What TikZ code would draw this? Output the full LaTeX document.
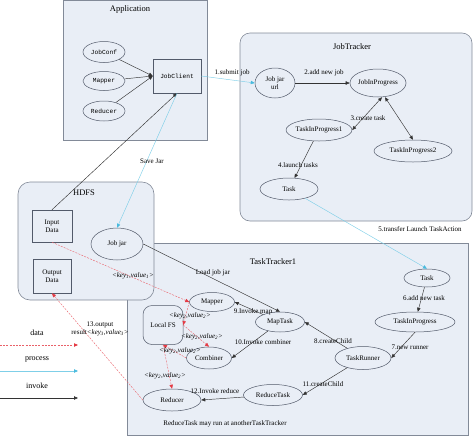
\documentclass[tikz,border=0pt]{standalone}
\usepackage{fontspec}
\setmainfont{Liberation Serif}
\newfontfamily\codefont{Liberation Mono}
\usetikzlibrary{arrows.meta,shapes.geometric}
\definecolor{boxfill}{RGB}{233,238,246}
\definecolor{boxline}{RGB}{130,138,152}
\definecolor{ndline}{RGB}{82,90,106}
\definecolor{datared}{RGB}{228,58,68}
\definecolor{proccyan}{RGB}{72,186,222}
\newcommand\kv[1]{\textit{<key\textsubscript{#1},value\textsubscript{#1}>}}
\tikzset{tip/.style={-{Triangle[length=4pt,width=3.4pt]}},
  grp/.style={draw=boxline, fill=boxfill, line width=0.6pt},
  ell/.style={ellipse, draw=ndline, line width=0.5pt, inner sep=0pt, align=center, font=\fontsize{7}{8}\selectfont},
  sq/.style={rectangle, draw=ndline, line width=0.5pt, inner sep=0pt, align=center, font=\fontsize{7}{8}\selectfont},
  code/.style={font=\codefont\fontsize{6.2}{7}\selectfont},
  inv/.style={tip, draw=black!80, line width=0.45pt},
  proc/.style={tip, draw=proccyan!70, line width=0.45pt, -{Triangle[length=4pt,width=3.4pt,fill=proccyan,color=proccyan]}},
  dat/.style={draw=datared!80, line width=0.4pt, dash pattern=on 2pt off 1.2pt, -{Triangle[length=4pt,width=3.4pt,color=datared]}},
  lbl/.style={inner sep=0pt, align=center, font=\fontsize{7}{8}\selectfont},
  ttl/.style={inner sep=0pt, font=\fontsize{8.5}{10}\selectfont}}

\begin{document}
\begin{tikzpicture}[x=1pt, y=-1pt]
  \useasboundingbox (0,0) rectangle (474,437);
  % containers
  \draw[grp] (63,0) rectangle (207,140);
  \node[ttl] (tapp) at (130,9) {Application};
  \draw[grp, rounded corners=10pt] (240,33) rectangle (472,221);
  \node[ttl] (tjt) at (352,47) {JobTracker};
  \draw[grp] (127,243) rectangle (468,435);
  \node[ttl] (ttt) at (273,262) {TaskTracker1};
  \draw[grp, rounded corners=12pt] (18,182) rectangle (154,300);
  \node[ttl] (thdfs) at (84,193) {HDFS};
  % application
  \node[ell, code, minimum width=42pt, minimum height=21pt] (jconf) at (104,52) {JobConf};
  \node[ell, code, minimum width=42pt, minimum height=19pt] (jmap) at (104,81) {Mapper};
  \node[ell, code, minimum width=42pt, minimum height=20pt] (jred) at (104,111) {Reducer};
  \node[sq, code, minimum width=48pt, minimum height=34pt] (jc) at (177,76) {JobClient};
  % jobtracker
  \node[ell, minimum width=40pt, minimum height=30pt] (jurl) at (275,83) {Job jar\\url};
  \node[ell, minimum width=54pt, minimum height=28pt] (jip) at (378,83) {JobInProgress};
  \node[ell, minimum width=65pt, minimum height=22pt] (tip1) at (319,130) {TaskInProgress1};
  \node[ell, minimum width=78pt, minimum height=22pt] (tip2) at (413,151) {TaskInProgress2};
  \node[ell, minimum width=58pt, minimum height=22pt] (jtask) at (289,189) {Task};
  % hdfs
  \node[sq, minimum width=40pt, minimum height=32pt] (indata) at (52,226) {Input\\Data};
  \node[sq, minimum width=38pt, minimum height=34pt] (outdata) at (52,276) {Output\\Data};
  \node[ell, minimum width=52pt, minimum height=32pt] (jjar) at (117,244) {Job jar};
  % tasktracker
  \node[ell, minimum width=46pt, minimum height=18pt] (ttask) at (427,278) {Task};
  \node[ell, minimum width=80pt, minimum height=20pt] (ttip) at (415,322) {TaskInProgress};
  \node[ell, minimum width=56pt, minimum height=23pt] (trun) at (363,358) {TaskRunner};
  \node[ell, minimum width=49pt, minimum height=20pt] (mtask) at (280,322) {MapTask};
  \node[ell, minimum width=45pt, minimum height=19pt] (mapper) at (212,302) {Mapper};
  \node[sq, rounded corners=9pt, minimum width=40pt, minimum height=39pt] (lfs) at (163,325) {Local FS};
  \node[ell, minimum width=45pt, minimum height=22pt] (comb) at (209,358) {\raisebox{-2pt}{Combiner}};
  \node[ell, minimum width=59pt, minimum height=21pt] (rtask) at (273,395) {ReduceTask};
  \node[ell, minimum width=58pt, minimum height=22pt] (reducer) at (172,400) {Reducer};
  \node[lbl] (note) at (225,424) {ReduceTask may run at anotherTaskTracker};
  % invoke
  \foreach \n in {jconf,jmap,jred}{\draw[inv] (\n) -- (jc.west);}
  \draw[inv] (indata.north) -- (jc.south);
  \draw[inv] (jurl) -- (jip);
  \draw[inv, {Triangle[length=4pt,width=3.4pt]}-{Triangle[length=4pt,width=3.4pt]}] (jip.south) ++(4,0) -- (tip1.east);
  \draw[inv, {Triangle[length=4pt,width=3.4pt]}-{Triangle[length=4pt,width=3.4pt]}] (jip.south) ++(7,0) -- (tip2.north);
  \draw[inv] (tip1) -- (jtask);
  \draw[inv] (ttask) -- (ttip);
  \draw[inv] (ttip.south) -- (trun.east);
  \draw[inv] (trun) -- (mtask.east);
  \draw[inv] (trun) -- (rtask.east);
  \draw[inv] (mtask) -- (mapper.east);
  \draw[inv] (mtask) -- (comb.east);
  \draw[inv] (rtask) -- (reducer.east);
  \draw[inv] (jjar.east) -- (mtask.north);
  % process
  \draw[proc] (jc.east) -- (jurl.west);
  \draw[proc] (jc.south) -- (jjar.north);
  \draw[proc] (jtask) -- (ttask.north);
  % data
  \draw[dat] (indata.south) -- (mapper.west);
  \draw[dat] (mapper.west) -- (lfs.east);
  \draw[dat] (lfs.east) -- (comb.north);
  \draw[dat] (comb.west) -- (lfs.south);
  \draw[dat] (lfs.south) -- (reducer.north);
  \draw[dat] (reducer.west) -- (outdata.south);
  % labels
  \node[lbl] (l1) at (232,73) {1.submit job};
  \node[lbl] (l2) at (324,73) {2.add new job};
  \node[lbl] (l3) at (368,118) {3.create task};
  \node[lbl] (l4) at (298,165) {4.launch tasks};
  \node[lbl] (l5) at (420,229) {5.transfer Launch TaskAction};
  \node[lbl] (l6) at (424,298) {6.add new task};
  \node[lbl] (l7) at (410,347) {7.new runner};
  \node[lbl] (l8) at (333,341) {8.createChild};
  \node[lbl] (l9) at (253,312) {9.Invoke map};
  \node[lbl] (l10) at (263,342) {10.Invoke combiner};
  \node[lbl] (l11) at (323,384) {11.createChild};
  \node[lbl] (l12) at (215,391) {12.Invoke reduce};
  \node[lbl] (l13) at (100,329) {13.output\\result\kv{3}};
  \node[lbl] (lsave) at (152,161) {Save Jar};
  \node[lbl] (lload) at (213,273) {Load job jar};
  \node[lbl] (lk1) at (133,276) {\kv{1}};
  \node[lbl] (lk2a) at (190,316) {\kv{2}};
  \node[lbl] (lk2b) at (202,337) {\kv{2}};
  \node[lbl] (lk2c) at (180,351) {\kv{2}};
  \node[lbl] (lk2d) at (165,376) {\kv{2}};
  % legend
  \foreach \t/\s/\y in {data/dat/345, process/proc/371, invoke/inv/398}{
    \node[lbl, font=\fontsize{8}{9}\selectfont] (leg\t) at (37,\y-12) {\t};
    \coordinate (a\t) at (0,\y); \coordinate (b\t) at (78,\y);
    \draw[\s] (a\t) -- (b\t);}
\end{tikzpicture}
\end{document}
